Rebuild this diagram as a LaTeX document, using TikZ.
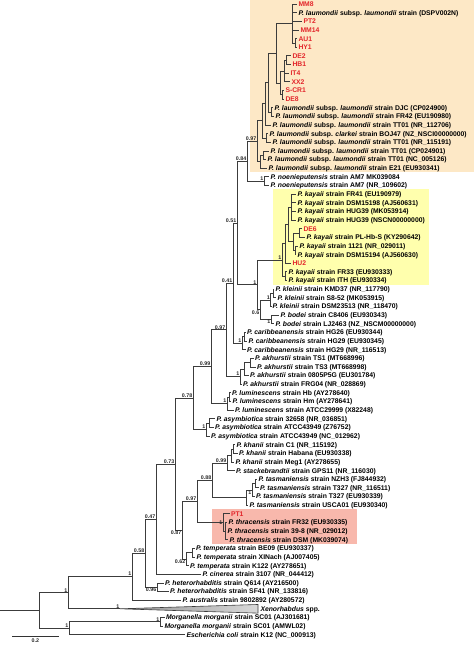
\documentclass[tikz,border=0pt]{standalone}
\usepackage{fontspec}
\setmainfont{Liberation Sans}
\definecolor{leafred}{HTML}{E3262B}
\definecolor{laumbox}{HTML}{FDE8C6}
\definecolor{kaybox}{HTML}{FFFFAD}
\definecolor{thrbox}{HTML}{F8B8AC}
\definecolor{branchgray}{HTML}{3C3C3C}
\newcommand{\leaffont}{\fontsize{6.8}{7}\selectfont\bfseries}
\newcommand{\supfont}{\fontsize{5.3}{6}\selectfont\bfseries}
\newcommand{\plaum}{\textit{P. laumondii} subsp. \textit{laumondii} strain}

\begin{document}
\begin{tikzpicture}[x=1pt, y=-8.64pt, yshift=-4pt,
  branch/.style={line width=0.75pt, draw=branchgray},
  leaf/.style={anchor=west, inner xsep=1.3pt, inner ysep=0pt, text height=4.9pt, text depth=0pt, font=\leaffont},
  iso/.style={leaf, text=leafred},
  sup/.style={inner sep=0.5pt, font=\supfont, text=black!85},
  xtri/.style={draw=branchgray, line width=0.6pt, left color=gray!85, right color=gray!30}
]
  \useasboundingbox (0,-0.463) rectangle (474,74.19);
  % clade boxes
  \fill[laumbox] (250,-0.463) rectangle (474,19.44);
  \fill[kaybox] (273,21.41) rectangle (429,32.52);
  \fill[thrbox] (212,58.5) rectangle (357,62.5);

  % leaves
  \node[iso] (mm8) at (297,0) {MM8};
  \node[leaf] (dspv) at (297,1) {\plaum{} (DSPV002N)};
  \node[iso] (pt2) at (302,2) {PT2};
  \node[iso] (mm14) at (299,3) {MM14};
  \node[iso] (au1) at (297,4) {AU1};
  \node[iso] (hy1) at (297,5) {HY1};
  \node[iso] (de2) at (291,6) {DE2};
  \node[iso] (hb1) at (291,7) {HB1};
  \node[iso] (it4) at (289,8) {IT4};
  \node[iso] (xx2) at (290,9) {XX2};
  \node[iso] (scr1) at (284,10) {S-CR1};
  \node[iso] (de8) at (284,11) {DE8};
  \node[leaf] (djc) at (273,12) {\plaum{} DJC (CP024900)};
  \node[leaf] (fr42) at (274,13) {\plaum{} FR42 (EU190980)};
  \node[leaf] (ttnr12) at (271,14) {\plaum{} TT01 (NR\_112706)};
  \node[leaf] (boj47) at (268,15) {\textit{P. laumondii} subsp. \textit{clarkei} strain BOJ47 (NZ\_NSCI00000000)};
  \node[leaf] (ttnr15) at (271,16) {\plaum{} TT01 (NR\_115191)};
  \node[leaf] (ttcp) at (269,17) {\plaum{} TT01 (CP024901)};
  \node[leaf] (ttnc) at (266,18) {\plaum{} TT01 (NC\_005126)};
  \node[leaf] (e21) at (267,19) {\plaum{} E21 (EU930341)};
  \node[leaf] (noena) at (269,20) {\textit{P. noenieputensis} strain AM7 MK039084};
  \node[leaf] (noenb) at (269,21) {\textit{P. noenieputensis} strain AM7 (NR\_109602)};
  \node[leaf] (fr41) at (296,22) {\textit{P. kayaii} strain FR41 (EU190979)};
  \node[leaf] (dsm98) at (296,23) {\textit{P. kayaii} strain DSM15198 (AJ560631)};
  \node[leaf] (huga) at (296,24) {\textit{P. kayaii} strain HUG39 (MK053914)};
  \node[leaf] (hugb) at (296,25) {\textit{P. kayaii} strain HUG39 (NSCN00000000)};
  \node[iso] (de6) at (302,26) {DE6};
  \node[leaf] (plhbs) at (305,27) {\textit{P. kayaii} strain PL-Hb-S (KY290642)};
  \node[leaf] (k1121) at (298,28) {\textit{P. kayaii} strain 1121 (NR\_029011)};
  \node[leaf] (dsm94) at (296,29) {\textit{P. kayaii} strain DSM15194 (AJ560630)};
  \node[iso] (hu2) at (291,30) {HU2};
  \node[leaf] (fr33) at (287,31) {\textit{P. kayaii} strain FR33 (EU930333)};
  \node[leaf] (ith) at (287,32) {\textit{P. kayaii} strain ITH (EU930334)};
  \node[leaf] (kmd37) at (274,33) {\textit{P. kleinii} strain KMD37 (NR\_117790)};
  \node[leaf] (s852) at (276,34) {\textit{P. kleinii} strain S8-52 (MK053915)};
  \node[leaf] (dsm13) at (271,35) {\textit{P. kleinii} strain DSM23513 (NR\_118470)};
  \node[leaf] (c8406) at (279,36) {\textit{P. bodei} strain C8406 (EU930343)};
  \node[leaf] (lj2463) at (274,37) {\textit{P. bodei} strain LJ2463 (NZ\_NSCM00000000)};
  \node[leaf] (hg26) at (245.5,38) {\textit{P. caribbeanensis} strain HG26 (EU930344)};
  \node[leaf] (hg29a) at (247,39) {\textit{P. caribbeanensis} strain HG29 (EU930345)};
  \node[leaf] (hg29b) at (245.5,40) {\textit{P. caribbeanensis} strain HG29 (NR\_116513)};
  \node[leaf] (ts1) at (253.5,41) {\textit{P. akhurstii} strain TS1 (MT668996)};
  \node[leaf] (ts3) at (255.5,42) {\textit{P. akhurstii} strain TS3 (MT668998)};
  \node[leaf] (p5g) at (248.5,43) {\textit{P. akhurstii} strain 0805P5G (EU301784)};
  \node[leaf] (frg04) at (241.5,44) {\textit{P. akhurstii} strain FRG04 (NR\_028869)};
  \node[leaf] (hb) at (230.5,45) {\textit{P. luminescens} strain Hb (AY278640)};
  \node[leaf] (hm) at (231,46) {\textit{P. luminescens} strain Hm (AY278641)};
  \node[leaf] (atcc99) at (233.5,47) {\textit{P. luminescens} strain ATCC29999 (X82248)};
  \node[leaf] (a32658) at (215,48) {\textit{P. asymbiotica} strain 32658 (NR\_036851)};
  \node[leaf] (atcc49a) at (213.5,49) {\textit{P. asymbiotica} strain ATCC43949 (Z76752)};
  \node[leaf] (atcc49b) at (209.5,50) {\textit{P. asymbiotica} strain ATCC43949 (NC\_012962)};
  \node[leaf] (c1) at (235,51) {\textit{P. khanii} strain C1 (NR\_115192)};
  \node[leaf] (habana) at (237.5,52) {\textit{P. khanii} strain Habana (EU930338)};
  \node[leaf] (meg1) at (234,53) {\textit{P. khanii} strain Meg1 (AY278655)};
  \node[leaf] (gps11) at (234.5,54) {\textit{P. stackebrandtii} strain GPS11 (NR\_116030)};
  \node[leaf] (nzh3) at (257,55) {\textit{P. tasmaniensis} strain NZH3 (FJ844932)};
  \node[leaf] (t327a) at (258.5,56) {\textit{P. tasmaniensis} strain T327 (NR\_116511)};
  \node[leaf] (t327b) at (254.5,57) {\textit{P. tasmaniensis} strain T327 (EU930339)};
  \node[leaf] (usca01) at (248,58) {\textit{P. tasmaniensis} strain USCA01 (EU930340)};
  \node[iso] (pt1) at (229.5,59) {PT1};
  \node[leaf] (fr32) at (227,60) {\textit{P. thracensis} strain FR32 (EU930335)};
  \node[leaf] (r398) at (226,61) {\textit{P. thracensis} strain 39-8 (NR\_029012)};
  \node[leaf] (dsmthr) at (228,62) {\textit{P. thracensis} strain DSM (MK039074)};
  \node[leaf] (be09) at (194.5,63) {\textit{P. temperata} strain BE09 (EU930337)};
  \node[leaf] (xinach) at (195,64) {\textit{P. temperata} strain XINach (AJ007405)};
  \node[leaf] (k122) at (188.5,65) {\textit{P. temperata} strain K122 (AY278651)};
  \node[leaf] (cin) at (201,66) {\textit{P. cinerea} strain 3107 (NR\_044412)};
  \node[leaf] (q614) at (163.5,67) {\textit{P. heterorhabditis} strain Q614 (AY216500)};
  \node[leaf] (sf41) at (168.5,68) {\textit{P. heterorhabditis} strain SF41 (NR\_133816)};
  \node[leaf] (aus) at (181,69) {\textit{P. australis} strain 9802892 (AY280572)};
  \node[leaf] (xeno) at (259,70) {\textit{Xenorhabdus} spp.};
  \node[leaf] (morga) at (164.5,71) {\textit{Morganella morganii} strain SC01 (AJ301681)};
  \node[leaf] (morgb) at (163,72) {\textit{Morganella morganii} strain SC01 (AMWL02)};
  \node[leaf] (ecoli) at (185,73) {\textit{Escherichia coli} strain K12 (NC\_000913)};

  % internal nodes
  \coordinate (mc2) at (295,4.5);
  \coordinate (mc) at (292,2.25);
  \coordinate (d1a) at (286,6.5);
  \coordinate (d1) at (284,7.75);
  \coordinate (d2) at (282,10.5);
  \coordinate (dc) at (280,9.13);
  \coordinate (l1) at (276,5.69);
  \coordinate (dj) at (271,12.5);
  \coordinate (nb) at (268,9.09);
  \coordinate (nc) at (265,11.55);
  \coordinate (cl) at (266,15.5);
  \coordinate (na) at (262,13.52);
  \coordinate (cn) at (263,17.5);
  \coordinate (en) at (260,18.25);
  \coordinate (n097l) at (257,15.89);
  \coordinate (noen) at (264,20.5);
  \coordinate (n084) at (247,18.19);
  \coordinate (ktop) at (291,23.5);
  \coordinate (kde) at (299,26.5);
  \coordinate (km2) at (295,28.5);
  \coordinate (km) at (293,27.5);
  \coordinate (ktm) at (288,25.5);
  \coordinate (kyh) at (285,27.75);
  \coordinate (kf) at (285,31.5);
  \coordinate (kc) at (282,29.63);
  \coordinate (kk) at (273,33.5);
  \coordinate (kn) at (270.5,34.25);
  \coordinate (bo) at (271,36.5);
  \coordinate (kb) at (260,35.38);
  \coordinate (z) at (257,32.5);
  \coordinate (n051) at (237,25.35);
  \coordinate (car2) at (244,38.5);
  \coordinate (car) at (242,39.25);
  \coordinate (n041) at (233,32.3);
  \coordinate (ak3) at (250,41.5);
  \coordinate (ak2) at (244,42.25);
  \coordinate (ak1) at (240,43.13);
  \coordinate (n097a) at (226,37.71);
  \coordinate (lu2) at (229,45.5);
  \coordinate (lu1) at (227,46.25);
  \coordinate (n099a) at (211,41.98);
  \coordinate (as2) at (209,48.5);
  \coordinate (as1) at (206,49.25);
  \coordinate (n078) at (193,45.62);
  \coordinate (kh2) at (233.5,51.5);
  \coordinate (kh1) at (231,52.25);
  \coordinate (n099k) at (227,53.13);
  \coordinate (tsc) at (255,55.5);
  \coordinate (tsb) at (252,56.25);
  \coordinate (tsa) at (246,57.13);
  \coordinate (n088) at (212,55.13);
  \coordinate (th2) at (225,61);
  \coordinate (th) at (223,60);
  \coordinate (n097b) at (197,57.56);
  \coordinate (te2) at (192,63.5);
  \coordinate (te) at (186,64.25);
  \coordinate (n087) at (182,60.9);
  \coordinate (n073) at (175,53.26);
  \coordinate (n047) at (156,59.63);
  \coordinate (he) at (157,67.5);
  \coordinate (n058) at (145,63.56);
  \coordinate (ph) at (132,66.28);
  \coordinate (xn) at (120,70);
  \coordinate (xtop) at (258,69.5);
  \coordinate (xbot) at (258,70.5);
  \coordinate (pxn) at (68,68.14);
  \coordinate (mg) at (160,71.5);
  \coordinate (me) at (69,72.25);
  \coordinate (root) at (39,70.2);
  \coordinate (stem) at (0,70.2);

  % branches
  \draw[branch] (mc2) |- (au1.west) (mc2) |- (hy1.west);
  \draw[branch] (mc) |- (mm8.west) (mc) |- (dspv.west) (mc) |- (pt2.west) (mc) |- (mm14.west) (mc) |- (mc2);
  \draw[branch] (d1a) |- (de2.west) (d1a) |- (hb1.west);
  \draw[branch] (d1) |- (d1a) (d1) |- (it4.west) (d1) |- (xx2.west);
  \draw[branch] (d2) |- (scr1.west) (d2) |- (de8.west);
  \draw[branch] (dc) |- (d1) (dc) |- (d2);
  \draw[branch] (l1) |- (mc) (l1) |- (dc);
  \draw[branch] (dj) |- (djc.west) (dj) |- (fr42.west);
  \draw[branch] (nb) |- (l1) (nb) |- (dj);
  \draw[branch] (nc) |- (nb) (nc) |- (ttnr12.west);
  \draw[branch] (cl) |- (boj47.west) (cl) |- (ttnr15.west);
  \draw[branch] (na) |- (nc) (na) |- (cl);
  \draw[branch] (cn) |- (ttcp.west) (cn) |- (ttnc.west);
  \draw[branch] (en) |- (cn) (en) |- (e21.west);
  \draw[branch] (n097l) |- (na) (n097l) |- (en);
  \draw[branch] (noen) |- (noena.west) (noen) |- (noenb.west);
  \draw[branch] (n084) |- (n097l) (n084) |- (noen);
  \draw[branch] (ktop) |- (fr41.west) (ktop) |- (dsm98.west) (ktop) |- (huga.west) (ktop) |- (hugb.west);
  \draw[branch] (kde) |- (de6.west) (kde) |- (plhbs.west);
  \draw[branch] (km2) |- (k1121.west) (km2) |- (dsm94.west);
  \draw[branch] (km) |- (kde) (km) |- (km2);
  \draw[branch] (ktm) |- (ktop) (ktm) |- (km);
  \draw[branch] (kyh) |- (ktm) (kyh) |- (hu2.west);
  \draw[branch] (kf) |- (fr33.west) (kf) |- (ith.west);
  \draw[branch] (kc) |- (kyh) (kc) |- (kf);
  \draw[branch] (kk) |- (kmd37.west) (kk) |- (s852.west);
  \draw[branch] (kn) |- (kk) (kn) |- (dsm13.west);
  \draw[branch] (bo) |- (c8406.west) (bo) |- (lj2463.west);
  \draw[branch] (kb) |- (kn) (kb) |- (bo);
  \draw[branch] (z) |- (kc) (z) |- (kb);
  \draw[branch] (n051) |- (n084) (n051) |- (z);
  \draw[branch] (car2) |- (hg26.west) (car2) |- (hg29a.west);
  \draw[branch] (car) |- (car2) (car) |- (hg29b.west);
  \draw[branch] (n041) |- (n051) (n041) |- (car);
  \draw[branch] (ak3) |- (ts1.west) (ak3) |- (ts3.west);
  \draw[branch] (ak2) |- (ak3) (ak2) |- (p5g.west);
  \draw[branch] (ak1) |- (ak2) (ak1) |- (frg04.west);
  \draw[branch] (n097a) |- (n041) (n097a) |- (ak1);
  \draw[branch] (lu2) |- (hb.west) (lu2) |- (hm.west);
  \draw[branch] (lu1) |- (lu2) (lu1) |- (atcc99.west);
  \draw[branch] (n099a) |- (n097a) (n099a) |- (lu1);
  \draw[branch] (as2) |- (a32658.west) (as2) |- (atcc49a.west);
  \draw[branch] (as1) |- (as2) (as1) |- (atcc49b.west);
  \draw[branch] (n078) |- (n099a) (n078) |- (as1);
  \draw[branch] (kh2) |- (c1.west) (kh2) |- (habana.west);
  \draw[branch] (kh1) |- (kh2) (kh1) |- (meg1.west);
  \draw[branch] (n099k) |- (kh1) (n099k) |- (gps11.west);
  \draw[branch] (tsc) |- (nzh3.west) (tsc) |- (t327a.west);
  \draw[branch] (tsb) |- (tsc) (tsb) |- (t327b.west);
  \draw[branch] (tsa) |- (tsb) (tsa) |- (usca01.west);
  \draw[branch] (n088) |- (n099k) (n088) |- (tsa);
  \draw[branch] (th2) |- (fr32.west) (th2) |- (r398.west) (th2) |- (dsmthr.west);
  \draw[branch] (th) |- (pt1.west) (th) |- (th2);
  \draw[branch] (n097b) |- (n088) (n097b) |- (th);
  \draw[branch] (te2) |- (be09.west) (te2) |- (xinach.west);
  \draw[branch] (te) |- (te2) (te) |- (k122.west);
  \draw[branch] (n087) |- (n097b) (n087) |- (te);
  \draw[branch] (n073) |- (n078) (n073) |- (n087);
  \draw[branch] (n047) |- (n073) (n047) |- (cin.west);
  \draw[branch] (he) |- (q614.west) (he) |- (sf41.west);
  \draw[branch] (n058) |- (n047) (n058) |- (he);
  \draw[branch] (ph) |- (n058) (ph) |- (aus.west);
  \draw[branch] (pxn) |- (ph) (pxn) |- (xn);
  \draw[xtri] (xn) -- (xtop) -- (xbot) -- cycle;
  \draw[branch] (mg) |- (morga.west) (mg) |- (morgb.west);
  \draw[branch] (me) |- (mg) (me) |- (ecoli.west);
  \draw[branch] (root) |- (pxn) (root) |- (me);
  \draw[branch] (stem) -- (root);

  % support values
  \node[sup, anchor=south east] (s097l) at (n097l) {0.97};
  \node[sup, anchor=south east] (s084) at (n084) {0.84};
  \node[sup, anchor=south east] (snoen) at (noen) {1};
  \node[sup, anchor=south east] (s051) at (n051) {0.51};
  \node[sup, anchor=south east] (skc) at (kc) {1};
  \node[sup, anchor=south east] (sz) at (z) {1};
  \node[sup, anchor=south east] (s041) at (n041) {0.41};
  \node[sup, anchor=south east] (skn) at (kn) {1};
  \node[sup, anchor=north east] (skb) at (kb) {0.6};
  \node[sup, anchor=north east] (sbo) at (bo) {1};
  \node[sup, anchor=south east] (scar) at (car) {1};
  \node[sup, anchor=south east] (sak) at (ak1) {1};
  \node[sup, anchor=south east] (s097a) at (n097a) {0.97};
  \node[sup, anchor=south east] (slu) at (lu1) {1};
  \node[sup, anchor=south east] (s099a) at (n099a) {0.99};
  \node[sup, anchor=south east] (sas) at (as1) {1};
  \node[sup, anchor=south east] (s078) at (n078) {0.78};
  \node[sup, anchor=south east] (s073) at (n073) {0.73};
  \node[sup, anchor=south east] (s099k) at (n099k) {0.99};
  \node[sup, anchor=south east] (s088) at (n088) {0.88};
  \node[sup, anchor=north east] (sts) at (tsb) {1};
  \node[sup, anchor=east] (sth) at (th) {1};
  \node[sup, anchor=south east] (s097b) at (n097b) {0.97};
  \node[sup, anchor=north east] (s087) at (n087) {0.87};
  \node[sup, anchor=north east] (ste) at (te) {0.62};
  \node[sup, anchor=south east] (s047) at (n047) {0.47};
  \node[sup, anchor=south east] (s058) at (n058) {0.58};
  \node[sup, anchor=north east] (she) at (he) {0.96};
  \node[sup, anchor=south east] (sph) at (ph) {1};
  \node[sup, anchor=south east] (spxn) at (pxn) {1};
  \node[sup, anchor=south east] (sxn) at (xn) {1};
  \node[sup, anchor=south east] (smg) at (mg) {1};
  \node[sup, anchor=south east] (sme) at (me) {1};

  % scale bar
  \coordinate (sbl) at (12,73.26);
  \coordinate (sbr) at (58.7,73.26);
  \draw[line width=1pt, black!80] (sbl) -- node[sup, below=0.8pt] (sblab) {0.2} (sbr);
\end{tikzpicture}
\end{document}
